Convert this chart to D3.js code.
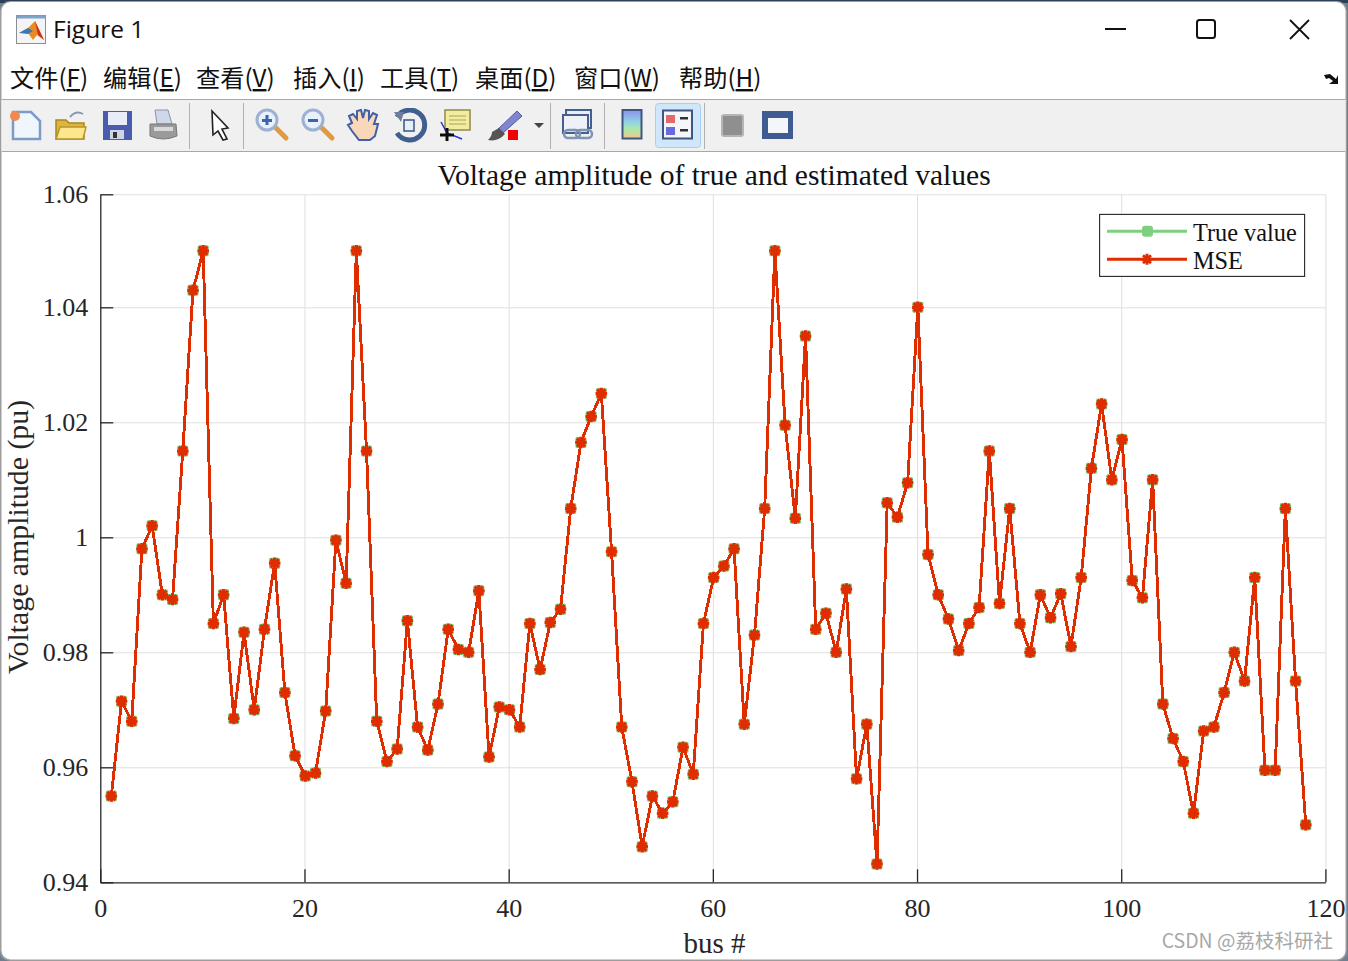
<!DOCTYPE html>
<html><head><meta charset="utf-8">
<style>
html,body{margin:0;padding:0;background:#2b4158;overflow:hidden}
svg{display:block}
</style>
<script src="https://d3js.org/d3.v7.min.js"></script>
</head><body>
<script>
const busTicks=[0,20,40,60,80,100,120];
const voltTicks=[0.94,0.96,0.98,1,1.02,1.04,1.06];
const menuNames=["文件","编辑","查看","插入","工具","桌面","窗口","帮助"];
const menuKeys=["F","E","V","I","T","D","W","H"];
const seriesNames=["True value","MSE"];
const trueValue=[0.955,0.9715,0.968,0.998,1.002,0.99,0.9892,1.015,1.043,1.05,0.985,0.99,0.9685,0.9835,0.97,0.984,0.9955,0.973,0.962,0.9585,0.959,0.9698,0.9995,0.992,1.05,1.015,0.968,0.961,0.9632,0.9855,0.967,0.963,0.971,0.984,0.9805,0.98,0.9907,0.9618,0.9705,0.97,0.967,0.985,0.977,0.9852,0.9875,1.005,1.0165,1.021,1.025,0.9975,0.967,0.9575,0.9462,0.955,0.952,0.954,0.9635,0.9588,0.985,0.993,0.995,0.998,0.9675,0.983,1.005,1.05,1.0195,1.0033,1.035,0.984,0.9868,0.98,0.991,0.958,0.9675,0.9432,1.006,1.0035,1.0095,1.04,0.997,0.99,0.9858,0.9803,0.985,0.9878,1.015,0.9885,1.005,0.985,0.98,0.99,0.986,0.9902,0.981,0.993,1.012,1.0232,1.01,1.017,0.9925,0.9895,1.01,0.971,0.965,0.961,0.952,0.9663,0.967,0.973,0.98,0.975,0.993,0.9595,0.9595,1.005,0.975,0.95];
const mseValue=[0.955,0.9715,0.968,0.998,1.002,0.99,0.9892,1.015,1.043,1.05,0.985,0.99,0.9685,0.9835,0.97,0.984,0.9955,0.973,0.962,0.9585,0.959,0.9698,0.9995,0.992,1.05,1.015,0.968,0.961,0.9632,0.9855,0.967,0.963,0.971,0.984,0.9805,0.98,0.9907,0.9618,0.9705,0.97,0.967,0.985,0.977,0.9852,0.9875,1.005,1.0165,1.021,1.025,0.9975,0.967,0.9575,0.9462,0.955,0.952,0.954,0.9635,0.9588,0.985,0.993,0.995,0.998,0.9675,0.983,1.005,1.05,1.0195,1.0033,1.035,0.984,0.9868,0.98,0.991,0.958,0.9675,0.9432,1.006,1.0035,1.0095,1.04,0.997,0.99,0.9858,0.9803,0.985,0.9878,1.015,0.9885,1.005,0.985,0.98,0.99,0.986,0.9902,0.981,0.993,1.012,1.0232,1.01,1.017,0.9925,0.9895,1.01,0.971,0.965,0.961,0.952,0.9663,0.967,0.973,0.98,0.975,0.993,0.9595,0.9595,1.005,0.975,0.95];

const W=1348,H=961,GREEN="#7fcf80",RED="#e02d00",AX="#262626",GRID="#dfdfdf";
const SERIF="'Liberation Serif',serif", UI="'Noto Sans CJK SC','Noto Sans',sans-serif";
const svg=d3.select("body").append("svg").attr("width",W).attr("height",H);
function el(p,name,attrs){const s=p.append(name);for(const k in attrs)s.attr(k,attrs[k]);return s;}
const defs=svg.append("defs");
el(el(defs,"filter",{id:"soft",x:"-5%",y:"-5%",width:"110%",height:"110%"}),"feGaussianBlur",{stdDeviation:0.55});

// window frame
el(svg,"rect",{width:W,height:H,fill:"#6f7f8f"});
el(svg,"rect",{width:W,height:3,fill:"#2b4158"});
el(svg,"rect",{x:0,y:1,width:1347,height:960,rx:10,fill:"#9d9d9d"});
el(svg,"rect",{x:1.5,y:2,width:1344,height:957.5,rx:9,fill:"#fff"});

// title bar
const tb=svg.append("g");
const appIcon=tb.append("g").attr("filter","url(#soft)");
el(appIcon,"rect",{x:16.5,y:15.5,width:29,height:28,fill:"#f4f4f4",stroke:"#8a8f96"});
el(appIcon,"rect",{x:16.5,y:15.5,width:29,height:3,fill:"#7da3c8"});
el(appIcon,"path",{d:"M19 33 L28 28 L35 21 L44 40 L37 35 L33 40 L28 33 Z",fill:"#ec8a24"});
el(appIcon,"path",{d:"M19 33 L28 28 L33 31 L28 34 Z",fill:"#3a78b8"});
el(appIcon,"path",{d:"M35 21 L44 40 L38 35 Z",fill:"#c8321e"});
el(tb,"text",{x:53,y:38,"font-family":"'Open Sans','Noto Sans',sans-serif","font-size":24.5,fill:"#111"}).text("Figure 1");
el(tb,"rect",{x:1105,y:28,width:21,height:2,fill:"#111"});
el(tb,"rect",{x:1197,y:20,width:18,height:18,rx:2.5,fill:"none",stroke:"#111","stroke-width":2});
el(tb,"path",{d:"M1290 20 L1309 39 M1309 20 L1290 39",stroke:"#111","stroke-width":1.8,fill:"none"});

// menu bar
const menuX=[10,103,196,293,380,475,574,679];
const mb=svg.append("g").attr("font-family",UI).attr("font-size",24.2).attr("fill","#111");
menuNames.forEach((n,i)=>{
  const t=el(mb,"text",{x:menuX[i],y:87});
  t.append("tspan").text(n+"(");
  t.append("tspan").attr("text-decoration","underline").text(menuKeys[i]);
  t.append("tspan").text(")");
});
el(mb,"path",{d:"M1324 75 L1330 74 L1336 79 L1338 75 L1338 84 L1329 84 L1333 81 L1329 78 L1326 79 Z",fill:"#111"});

// toolbar
const barBg=svg.append("g");
el(barBg,"rect",{x:1.5,y:100,width:1344,height:52,fill:"#f0f0f0"});
el(barBg,"rect",{x:1.5,y:99,width:1344,height:1,fill:"#a8a8a8"});
el(barBg,"rect",{x:1.5,y:151,width:1344,height:1,fill:"#a8a8a8"});
[189,243,550,604,704].forEach(x=>el(barBg,"rect",{x:x,y:103,width:1,height:46,fill:"#b0b0b0"}));
el(barBg,"rect",{x:655.5,y:103.5,width:45,height:44,rx:3,fill:"#cfe6fb",stroke:"#a6d0f2"});
const bar=svg.append("g").attr("filter","url(#soft)");
// new
el(bar,"path",{d:"M13 112 H31 L40 121 V139 H13 Z",fill:"#f0f6fd",stroke:"#7b9cc6","stroke-width":2.5});
el(bar,"circle",{cx:15,cy:116,r:5,fill:"#f08a50"});
// open
el(bar,"path",{d:"M56 120 H66 L69 123 H84 V139 H56 Z",fill:"#e0b53c",stroke:"#a68620","stroke-width":1.5});
el(bar,"path",{d:"M56 139 L60 127 H86 L83 139 Z",fill:"#fce78e",stroke:"#b8962a","stroke-width":1.5});
el(bar,"path",{d:"M70 117 Q76 110 83 114",fill:"none",stroke:"#8898b0","stroke-width":2});
// save
el(bar,"rect",{x:103,y:111,width:29,height:29,fill:"#4a5cae"});
el(bar,"rect",{x:108,y:112,width:19,height:13,fill:"#e8ecf8"});
el(bar,"rect",{x:110,y:130,width:14,height:9,fill:"#ced3e6"});
el(bar,"rect",{x:113,y:132,width:4,height:6,fill:"#333"});
// print
el(bar,"path",{d:"M155 110 H168 L172 124 H157 Z",fill:"#cfd8ea",stroke:"#8a93a6"});
el(bar,"path",{d:"M150 124 H176 L177 136 Q163 142 150 136 Z",fill:"#9a9a9a",stroke:"#777"});
el(bar,"rect",{x:154,y:127,width:19,height:4,fill:"#d9d9d9"});
// pointer
el(bar,"path",{d:"M212 111 L228 128 L222 129 L227 139 L223 140 L218 131 L213 135 Z",fill:"#fff",stroke:"#222","stroke-width":1.6});
// zoom in/out
[[270,"+"],[316,"-"]].forEach(([x,s])=>{
  el(bar,"line",{x1:x+5,y1:127,x2:x+16,y2:138,stroke:"#e39a3c","stroke-width":5,"stroke-linecap":"round"});
  el(bar,"circle",{cx:x-3,cy:120,r:10,fill:"#e8f0fb",stroke:"#9db2d2","stroke-width":3});
  el(bar,"rect",{x:x-8,y:119,width:10,height:3,fill:"#3d64a8"});
  if(s==="+")el(bar,"rect",{x:x-4.5,y:115,width:3,height:10,fill:"#3d64a8"});
});
// hand
el(bar,"path",{d:"M352 123 L349 116 L353 114 L357 119 L357 111 L361 110 L363 118 L365 110 L369 111 L369 119 L373 113 L377 115 L374 124 L378 124 L375 136 L370 140 H359 L352 131 L348 125 Z",fill:"#f8d8b8",stroke:"#3f5fa8","stroke-width":2});
// rotate
el(bar,"path",{d:"M397 117 A15 15 0 1 1 397 133",fill:"none",stroke:"#3f5f8e","stroke-width":5});
el(bar,"path",{d:"M394 112 L404 112 L401 122 Z",fill:"#6a7f9f"});
el(bar,"rect",{x:404,y:120,width:10,height:11,fill:"#e8eef6",stroke:"#3f5f8e","stroke-width":1.6});
// data tip
el(bar,"rect",{x:445,y:110,width:25,height:20,fill:"#f2ec9e",stroke:"#8f8b4a","stroke-width":1.5});
el(bar,"path",{d:"M449 116 H466 M449 120 H466 M449 124 H466",stroke:"#a8a260"});
el(bar,"path",{d:"M441 122 L447 133 L462 139",fill:"none",stroke:"#2233dd","stroke-width":1.5});
el(bar,"path",{d:"M440 135 H454 M447 128 V141",stroke:"#111","stroke-width":3});
// brush
el(bar,"path",{d:"M517 111 L522 116 L503 133 L497 130 Z",fill:"#7f86cf",stroke:"#555b9e"});
el(bar,"path",{d:"M499 128 L505 134 Q498 142 488 140 Q492 136 492 132 Z",fill:"#555"});
el(bar,"rect",{x:508,y:130,width:10,height:10,fill:"#f00000"});
el(bar,"path",{d:"M534 123 H544 L539 128 Z",fill:"#444"});
// link
el(bar,"rect",{x:566,y:110,width:25,height:18,fill:"#e8ecf4",stroke:"#44608f","stroke-width":2});
el(bar,"rect",{x:563,y:115,width:25,height:18,fill:"#eef1f7",stroke:"#44608f","stroke-width":2});
el(bar,"rect",{x:564,y:130,width:16,height:8,rx:4,fill:"none",stroke:"#7f94b0","stroke-width":2.5});
el(bar,"rect",{x:576,y:130,width:16,height:8,rx:4,fill:"none",stroke:"#7f94b0","stroke-width":2.5});
// colorbar
const grad=el(defs,"linearGradient",{id:"cb",x1:0,y1:0,x2:0,y2:1});
[["0%","#8f8fe8"],["40%","#8fd0e8"],["65%","#a8e8b0"],["100%","#f0c888"]].forEach(([o,c])=>el(grad,"stop",{offset:o,"stop-color":c}));
el(bar,"rect",{x:622.5,y:110,width:19,height:28.5,fill:"url(#cb)",stroke:"#3f5680","stroke-width":2});
// legend icon
el(bar,"rect",{x:663,y:110.5,width:29,height:28,fill:"#f4f6fa",stroke:"#3f5680","stroke-width":2});
el(bar,"rect",{x:666,y:115,width:9,height:8,fill:"#e36b6b"});
el(bar,"rect",{x:666,y:127,width:9,height:8,fill:"#6a6ae0"});
el(bar,"rect",{x:680,y:117,width:8,height:2.5,fill:"#333"});
el(bar,"rect",{x:680,y:129,width:8,height:2.5,fill:"#333"});
// hide plot tools / show
el(bar,"rect",{x:722,y:115,width:21,height:21,rx:2,fill:"#8f8f8f",stroke:"#b5b5b5","stroke-width":2});
el(bar,"rect",{x:762,y:111,width:31,height:28,fill:"#3f5a92"});
el(bar,"rect",{x:768,y:118,width:20,height:15,fill:"#f4f6fa"});

// axes: the top of the box sits slightly low in the picture, hence the three-stop scale
const x=d3.scaleLinear().domain([0,120]).range([100.3,1325.4]);
const y=d3.scaleLinear().domain([0.94,1.04,1.06]).range([882.3,307.3,194.3]);
const plot=svg.append("g");
const fmt=d=>d3.format("~g")(d);
const gridX=plot.append("g").attr("transform","translate(0,882.3)").call(d3.axisBottom(x).tickValues(busTicks.slice(1)).tickSize(-688).tickFormat(""));
const gridY=plot.append("g").attr("transform","translate(100.3,0)").call(d3.axisLeft(y).tickValues(voltTicks.slice(1)).tickSize(-1225).tickFormat(""));
[gridX,gridY].forEach(g=>{g.select(".domain").remove();g.selectAll("line").attr("stroke",GRID).attr("stroke-width",1);});

const axB=plot.append("g").attr("transform","translate(0,882.3)").call(d3.axisBottom(x).tickValues(busTicks).tickSizeInner(-13).tickSizeOuter(0).tickPadding(16).tickFormat(fmt));
const axL=plot.append("g").attr("transform","translate(100.3,0)").call(d3.axisLeft(y).tickValues(voltTicks).tickSizeInner(-13).tickSizeOuter(0).tickPadding(12).tickFormat(fmt));
[axB,axL].forEach(g=>{
  g.attr("font-family",SERIF).attr("font-size",26);
  g.select(".domain").attr("stroke",AX).attr("stroke-width",1.3);
  g.selectAll("line").attr("stroke",AX).attr("stroke-width",1.3);
  g.selectAll("text").attr("fill",AX);
});

// series (drawn aliased, as the original figure is)
const pts=a=>a.map((v,i)=>[i+1,v]);
const line=d3.line().x(d=>x(d[0])).y(d=>y(d[1]));
const starPath=s=>{const r=s/2,k=r*0.72;return `M${-r} 0 H${r} M0 ${-r} V${r} M${-k} ${-k} L${k} ${k} M${k} ${-k} L${-k} ${k}`;};
const marks=plot.append("g").attr("transform","translate(0.8,0)");
el(marks,"path",{d:line(pts(trueValue)),fill:"none",stroke:GREEN,"stroke-width":2.6,"shape-rendering":"crispEdges"});
marks.append("g").selectAll("rect").data(pts(trueValue)).join("rect")
  .attr("x",d=>x(d[0])-5.5).attr("y",d=>y(d[1])-5.5).attr("width",11).attr("height",11).attr("rx",1.5).attr("fill",GREEN);
el(marks,"path",{d:line(pts(mseValue)),fill:"none",stroke:RED,"stroke-width":2.9,"shape-rendering":"crispEdges"});
marks.append("g").selectAll("path").data(pts(mseValue)).join("path")
  .attr("transform",d=>`translate(${x(d[0])},${y(d[1])})`).attr("d",starPath(11.5)).attr("fill","none").attr("stroke",RED).attr("stroke-width",3.2);

// labels
el(svg,"text",{x:714,y:184.5,"text-anchor":"middle","font-family":SERIF,"font-size":29.5,fill:"#111"}).text("Voltage amplitude of true and estimated values");
el(svg,"text",{x:714.5,y:952.5,"text-anchor":"middle","font-family":SERIF,"font-size":29,fill:AX}).text("bus #");
el(svg,"text",{x:0,y:0,"text-anchor":"middle",transform:"translate(28,537) rotate(-90)","font-family":SERIF,"font-size":29.8,fill:AX}).text("Voltage amplitude (pu)");

// legend
const lg=svg.append("g");
el(lg,"rect",{x:1099.6,y:214.4,width:205,height:62,fill:"#fff",stroke:AX,"stroke-width":1.1});
[GREEN,RED].forEach((c,i)=>{
  const ly=231.3+i*28;
  el(lg,"line",{x1:1107,x2:1187,y1:ly,y2:ly,stroke:c,"stroke-width":3});
  if(i===0)el(lg,"rect",{x:1142,y:ly-5.5,width:11,height:11,rx:3,fill:c});
  else el(lg,"path",{d:starPath(11),transform:`translate(1147,${ly})`,fill:"none",stroke:c,"stroke-width":2.8});
  el(lg,"text",{x:1193,y:ly+9.2,"font-family":SERIF,"font-size":24.3,fill:"#111"}).text(seriesNames[i]);
});

// watermark
el(svg,"text",{x:1333,y:948,"text-anchor":"end","font-family":"'Noto Sans CJK SC',sans-serif","font-size":19.5,fill:"#a8a8a8"}).text("CSDN @荔枝科研社");
</script>
</body></html>
